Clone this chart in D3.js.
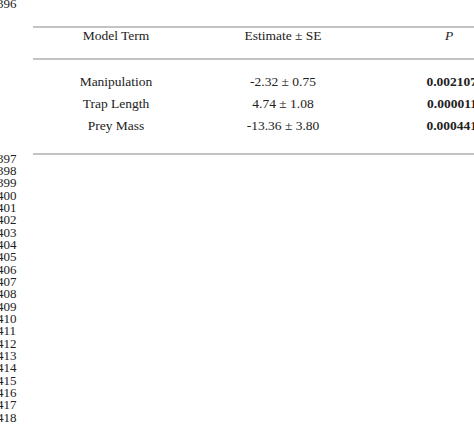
<!DOCTYPE html>
<html><head><meta charset="utf-8">
<script src="https://cdn.jsdelivr.net/npm/d3@7"></script>
<style>body{margin:0;background:#fff}svg{display:block}text{font-family:"Liberation Serif","DejaVu Serif",serif;fill:#222}</style>
</head><body>
<script>
var w = 474, h = 424;

var terms = ["Manipulation", "Trap Length", "Prey Mass"];
var estimates = [-2.32, 4.74, -13.36];
var ses = [0.75, 1.08, 3.80];
var pvalues = ["0.002107", "0.000011", "0.000441"];
var lineNumbers = [397,398,399,400,401,402,403,404,405,406,407,408,409,410,411,412,413,414,415,416,417,418];

var svg = d3.select("body").append("svg").attr("width", w).attr("height", h);

// row positions
var y = d3.scalePoint().domain(terms).range([81, 125]);
var x = d3.scaleOrdinal().domain(["term","est","p"]).range([116, 283, 477]);

svg.append("text").attr("x", -3).attr("y", 8).attr("font-size", 13).text("396");

[27, 59, 154].forEach(function(ry){
  svg.append("line").attr("x1", 33).attr("x2", w).attr("y1", ry).attr("y2", ry)
     .attr("stroke", "#888").attr("stroke-width", 1.2);
});

var hdr = svg.append("g").attr("font-size", 13.5);
hdr.append("text").attr("x", x("term")).attr("y", 40).attr("text-anchor","middle").text("Model Term");
hdr.append("text").attr("x", x("est")).attr("y", 40).attr("text-anchor","middle").text("Estimate \u00b1 SE");
hdr.append("text").attr("x", 449).attr("y", 40).attr("text-anchor","middle").attr("font-style","italic").text("P");

var rows = svg.selectAll("g.row").data(terms).enter().append("g").attr("class","row")
  .attr("font-size", 13.5)
  .attr("transform", function(d){ return "translate(0," + (y(d) + 5) + ")"; });
rows.append("text").attr("x", x("term")).attr("text-anchor","middle").text(function(d){ return d; });
rows.append("text").attr("x", x("est")).attr("text-anchor","middle")
  .text(function(d,i){ return estimates[i].toFixed(2) + " \u00b1 " + ses[i].toFixed(2); });
rows.append("text").attr("x", x("p")).attr("text-anchor","end").attr("font-weight","bold")
  .text(function(d,i){ return pvalues[i]; });

var ly = d3.scaleLinear().domain([397, 418]).range([158, 417]);
svg.selectAll("text.ln").data(lineNumbers).enter().append("text").attr("class","ln")
  .attr("x", -3).attr("y", function(d){ return ly(d) + 4.5; }).attr("font-size", 13)
  .text(function(d){ return d; });
</script>
</body></html>
